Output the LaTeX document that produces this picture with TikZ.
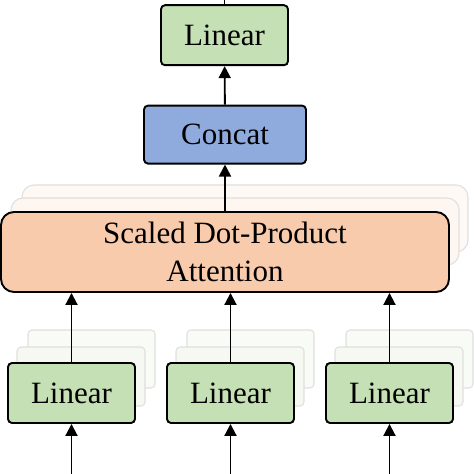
\documentclass[tikz,border=0pt]{standalone}
\usepackage{fontspec}
\setmainfont{Liberation Serif}
\usetikzlibrary{positioning,arrows.meta}
\definecolor{lingreen}{HTML}{C5E0B4}
\definecolor{catblue}{HTML}{8FAADC}
\definecolor{attorange}{HTML}{F8CBAD}

\tikzset{
    box/.style={draw=black, line width=1.9pt, rounded corners=4pt, align=center, inner sep=0pt,
        font=\fontsize{31}{38}\selectfont},
    linbox/.style={box, fill=lingreen, minimum width=127pt, minimum height=60pt},
    ghost/.style={draw=black!12, line width=1.1pt, rounded corners=4pt, inner sep=0pt},
    flow/.style={-{Triangle[length=12pt,width=12pt]}, line width=1.9pt},
}

\begin{document}
\begin{tikzpicture}[x=1pt, y=1pt]
    \useasboundingbox (0,0) rectangle (474,474);

    % Input projections (one per head, stacked)
    \foreach \i/\x in {1/71.5, 2/230.5, 3/389.5} {
        \node[ghost, fill=lingreen!12, minimum width=127pt, minimum height=58pt] (sh\i b) at (\x+20,115) {};
        \node[ghost, fill=lingreen!18, minimum width=128pt, minimum height=59pt] (sh\i a) at (\x+9.5,97.5) {};
        \node[linbox] (lin\i) at (\x,81) {Linear};
        \coordinate (in\i) at (\x,0);
    }

    % Attention block with its stacked copies
    \node[ghost, fill=attorange!12, rounded corners=12pt, minimum width=446pt, minimum height=67pt] (atsh2) at (245,255.5) {};
    \node[ghost, fill=attorange!18, rounded corners=12pt, minimum width=448pt, minimum height=67pt] (atsh1) at (235,242.5) {};
    \node[box, fill=attorange, rounded corners=13pt, minimum width=448pt, minimum height=80pt] (att) at (225,222)
        {Scaled Dot-Product\\Attention};

    % Output head
    \node[box, fill=catblue, minimum width=162pt, minimum height=58pt, above=46.5pt of att] (concat) {Concat};
    \node[linbox, above=38.5pt of concat, xshift=-0.5pt] (out) {Linear};
    \coordinate (top) at (out.north |- 0,474);

    % Connectors
    \foreach \i in {1,2,3} {
        \draw[flow] (in\i) -- (lin\i);
        \draw[flow] (lin\i) -- (lin\i.north |- att.south);
    }
    \draw[flow] (att) -- (concat);
    \draw[flow] (concat) -- (out);
    \draw[line width=1.9pt] (out) -- (top);
\end{tikzpicture}
\end{document}
